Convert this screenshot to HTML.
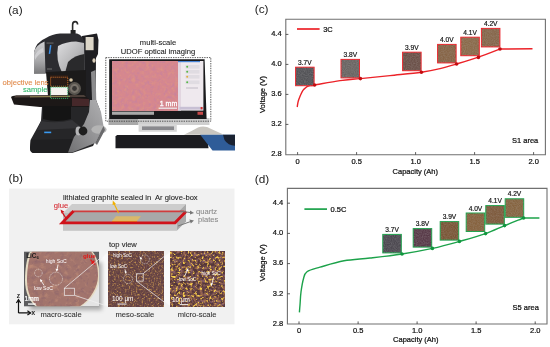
<!DOCTYPE html>
<html><head><meta charset="utf-8"><style>
html,body{margin:0;padding:0;background:#fff;}
svg{display:block;}
.t{font-family:'Liberation Sans',Arial,sans-serif;font-size:7.5px;fill:#111;stroke:#111;stroke-width:0.22px;}
.s{font-family:'Liberation Sans',Arial,sans-serif;font-size:6.6px;fill:#111;stroke:#111;stroke-width:0.18px;}
.p{font-family:'Liberation Sans',Arial,sans-serif;font-size:11.8px;fill:#1a1a1a;}
.l{font-family:'Liberation Sans',Arial,sans-serif;font-size:7.6px;fill:#1a1a1a;stroke:#1a1a1a;stroke-width:0.08px;}
</style></head><body>
<svg width="550" height="347" viewBox="0 0 550 347">
<defs>
<filter id="nf" x="0" y="0" width="100%" height="100%">
<feTurbulence type="fractalNoise" baseFrequency="0.9" numOctaves="2" seed="3"/>
<feColorMatrix type="matrix" values="0 0 0 0 0.5  0 0 0 0 0.5  0 0 0 0 0.5  1.2 0 0 0 -0.35"/>
</filter>
<filter id="fmicro" x="0" y="0" width="1" height="1" color-interpolation-filters="sRGB">
<feTurbulence type="fractalNoise" baseFrequency="0.42" numOctaves="2" seed="7" result="n"/>
<feTurbulence type="fractalNoise" baseFrequency="0.3" numOctaves="2" seed="11" result="m"/>
<feFlood flood-color="#54363a" result="bg"/>
<feColorMatrix in="m" type="matrix" values="0 0 0 0 0.6  0 0 0 0 0.4  0 0 0 0 0.32  3 0 0 0 -1.3" result="mid"/>
<feColorMatrix in="m" type="matrix" values="0 0 0 0 0.56  0 0 0 0 0.4  0 0 0 0 0.48  0 2.5 0 0 -1.25" result="pur"/>
<feColorMatrix in="n" type="matrix" values="0 0 0 0 0.78  0 0 0 0 0.52  0 0 0 0 0.24  3 0 0 0 -1.5" result="org"/>
<feColorMatrix in="n" type="matrix" values="0 0 0 0 0.96  0 0 0 0 0.82  0 0 0 0 0.3  5 0 0 0 -2.8" result="gold"/>
<feMerge><feMergeNode in="bg"/><feMergeNode in="mid"/><feMergeNode in="pur"/><feMergeNode in="org"/><feMergeNode in="gold"/></feMerge>
</filter>
<filter id="fmeso" x="0" y="0" width="1" height="1" color-interpolation-filters="sRGB">
<feTurbulence type="fractalNoise" baseFrequency="0.55" numOctaves="2" seed="3" result="n"/>
<feTurbulence type="fractalNoise" baseFrequency="0.6" numOctaves="2" seed="9" result="m"/>
<feFlood flood-color="#6a4842" result="bg"/>
<feColorMatrix in="m" type="matrix" values="0 0 0 0 0.36  0 0 0 0 0.22  0 0 0 0 0.28  3 0 0 0 -1.3" result="pur"/>
<feColorMatrix in="n" type="matrix" values="0 0 0 0 0.6  0 0 0 0 0.42  0 0 0 0 0.3  3 0 0 0 -1.35" result="mid"/>
<feColorMatrix in="n" type="matrix" values="0 0 0 0 0.76  0 0 0 0 0.58  0 0 0 0 0.3  4 0 0 0 -2.4" result="gold"/>
<feMerge><feMergeNode in="bg"/><feMergeNode in="pur"/><feMergeNode in="mid"/><feMergeNode in="gold"/></feMerge>
</filter>
<filter id="fscreen" x="0" y="0" width="1" height="1" color-interpolation-filters="sRGB">
<feTurbulence type="fractalNoise" baseFrequency="0.28" numOctaves="3" seed="4" result="n"/>
<feFlood flood-color="#d6878e" result="bg"/>
<feColorMatrix in="n" type="matrix" values="0 0 0 0 0.76  0 0 0 0 0.5  0 0 0 0 0.64  0 1.6 0 0 -0.75" result="pur"/>
<feColorMatrix in="n" type="matrix" values="0 0 0 0 0.88  0 0 0 0 0.6  0 0 0 0 0.5  1.6 0 0 0 -0.8" result="org"/>
<feMerge><feMergeNode in="bg"/><feMergeNode in="pur"/><feMergeNode in="org"/></feMerge>
</filter>
<filter id="fdisc" x="0" y="0" width="1" height="1" color-interpolation-filters="sRGB">
<feTurbulence type="fractalNoise" baseFrequency="0.2" numOctaves="3" seed="2" result="n"/>
<feFlood flood-color="#a2746c" result="bg"/>
<feColorMatrix in="n" type="matrix" values="0 0 0 0 0.74  0 0 0 0 0.54  0 0 0 0 0.46  2.5 0 0 0 -1.3" result="lt"/>
<feColorMatrix in="n" type="matrix" values="0 0 0 0 0.56  0 0 0 0 0.4  0 0 0 0 0.42  0 2.5 0 0 -1.3" result="dk"/>
<feMerge><feMergeNode in="bg"/><feMergeNode in="lt"/><feMergeNode in="dk"/></feMerge>
<feComposite in2="SourceGraphic" operator="in"/>
</filter>
<pattern id="noise" width="60" height="60" patternUnits="userSpaceOnUse"><rect width="60" height="60" filter="url(#nf)"/></pattern>
</defs>
<rect width="550" height="347" fill="#fff"/>
<g id="pa">
<text x="8.2" y="14" class="p">(a)</text>
<!-- microscope column (behind) -->
<defs>
<linearGradient id="gsil" x1="0" y1="0" x2="1" y2="1"><stop offset="0" stop-color="#dedee0"/><stop offset="0.55" stop-color="#b8b8ba"/><stop offset="1" stop-color="#7e7e80"/></linearGradient>
<linearGradient id="gsil2" x1="0" y1="0" x2="0" y2="1"><stop offset="0" stop-color="#d0d0d2"/><stop offset="0.6" stop-color="#a8a8aa"/><stop offset="1" stop-color="#7a7a7c"/></linearGradient>
<linearGradient id="garm" x1="1" y1="0" x2="0" y2="1"><stop offset="0" stop-color="#b0b0b2"/><stop offset="0.5" stop-color="#939395"/><stop offset="1" stop-color="#707072"/></linearGradient>
</defs>
<path d="M82,36 L97,33.5 L98.5,40 L98,54 L96,58 L95.5,112 L83,112 Z" fill="#1f1f22"/>
<rect x="85.6" y="37" width="8" height="13.2" fill="#dcd6c8"/>
<path d="M91,72 L95.5,70 L96.5,110 L92.5,112 Z" fill="#8c8c8e"/>
<ellipse cx="94" cy="60.5" rx="1.6" ry="2.2" fill="#d8ccb8"/>
<!-- hook -->
<path d="M72.6,36 L72.6,25 Q72.6,21.6 75.1,21.6 Q77.6,21.6 77.6,24.6" fill="none" stroke="#2a2a2a" stroke-width="1.6"/>
<rect x="70.6" y="30" width="5" height="8" fill="#222"/>
<!-- head -->
<path d="M34,52 Q36,42 46,38 Q52,34 60,33.5 L77,33.5 Q83,35 85,44 L85,73 L34,73.5 Z" fill="#2c2c30"/>
<path d="M34,52 Q36,45 44.5,41.5 L45.5,73.5 L34,73.5 Z" fill="url(#gsil2)"/>
<path d="M34.6,56 Q37,50 43,48 L43.5,52 Q38,54 35,60 Z" fill="#e0e0e2" opacity="0.6"/>
<rect x="49.4" y="45" width="1.5" height="9" fill="#3b8fe6" transform="rotate(8 50 49)"/>
<rect x="46.5" y="42.6" width="7" height="0.9" fill="#707070"/>
<rect x="47" y="68.5" width="5" height="1" fill="#707070"/>
<path d="M58,46 Q66,41.5 76,41.5 L84,43 L84.5,72 L62,72.5 Q55.5,60 58,46 Z" fill="url(#gsil)"/>
<path d="M68,62 Q75,55 84.5,54 L84.5,73 L65,73 Z" fill="#2a2a2c"/>
<!-- under head dark -->
<path d="M46,72 L86,70 L86,96 L48,96 Z" fill="#1b1a1a"/>
<rect x="50" y="75" width="18" height="9.5" fill="#2a1c16"/>
<circle cx="71" cy="80" r="1.8" fill="#d8c8a8"/>
<circle cx="74.5" cy="88.5" r="6.5" fill="#5a5650"/>
<circle cx="74.5" cy="88.5" r="4.4" fill="#7a746c"/>
<circle cx="74.5" cy="88.5" r="2.4" fill="#383634"/>
<!-- sample bright area -->
<rect x="50.5" y="87" width="17.3" height="11" fill="#f4f2ee"/>
<!-- dark mass of base/column -->
<path d="M42,106 L83,100 L96,100 L100,110 L102,128 L93,146 L72,153 L33,153 Q30,152 30,148 L30.5,140 L41,121 Z" fill="#262628"/>
<!-- stage -->
<path d="M11,97 Q12,95.4 16,95.4 L84,95 L89,99 L89,107 L40,107 L14,104.5 Z" fill="#1c1817"/>
<path d="M16,95.4 L84,95 L86,97 L14,97.6 Z" fill="#4c403a"/>
<path d="M30,96.8 L70,96.4" stroke="#a89a58" stroke-width="0.8"/>
<path d="M72,98 L89,99 L89,106 L72,106 Z" fill="#46282a"/>
<!-- condenser -->
<path d="M43,106 L71,106 L71,119 Q57,123 43,119 Z" fill="#141414"/>
<!-- base top surface -->
<path d="M41,121 Q57,124 72,120 L82,128 L37,130 Z" fill="#343437"/>
<path d="M31,140 L72,139 L70,153 L33,153 Q30,152 30,148 Z" fill="#1f1f21"/>
<!-- silver arm -->
<path d="M90,100 L96,100 L101,112 L103.5,126 L95,143 L72,152.5 L68,152.5 L74,137 L84,124 L89,112 Z" fill="url(#garm)"/>
<ellipse cx="99" cy="129.5" rx="7.6" ry="4.3" fill="#b4b4b4"/>
<path d="M95,143 L103.5,126 L105,130 L97,145 Z" fill="#6a6a6c"/>
<ellipse cx="78.5" cy="131" rx="3" ry="4.4" fill="#b6b6b8"/>
<circle cx="83" cy="131" r="4.4" fill="#1e1e1e"/>
<rect x="44.2" y="131.6" width="7" height="1.6" fill="#3a9af0"/>
<!-- labels -->
<text x="2.6" y="85" class="l" style="fill:#e08848;stroke:#e08848">objective lens</text>
<text x="22.9" y="92.2" class="l" style="fill:#2db86a;stroke:#2db86a">sample</text>
<rect x="50.6" y="77.2" width="17.2" height="9" fill="none" stroke="#e07a30" stroke-width="0.8" stroke-dasharray="1.2,0.8"/>
<rect x="50.6" y="87.2" width="17.2" height="11.2" fill="none" stroke="#2db86a" stroke-width="0.8" stroke-dasharray="1.2,0.8"/>

<!-- monitor area -->
<text x="158" y="45.1" text-anchor="middle" class="l">multi-scale</text>
<text x="158" y="54" text-anchor="middle" class="l">UDOF optical imaging</text>
<!-- stand and devices -->
<path d="M108.6,118 L209.5,118 L209.5,125 L108.6,125 Z" fill="#cfcfcf"/>
<path d="M108.6,119 L138,119 L138,125 L108.6,125 Z" fill="#a9a9a9"/>
<path d="M138.6,124 L176.8,124 L176.8,131.8 L138.6,131.8 Z" fill="#d6d6d6"/>
<path d="M142,126.4 L174,126.4 L174,130 L142,130 Z" fill="#8a8a8e"/>
<path d="M184,134.8 Q192,131 198,127.6 Q202,125.6 207,127 L214,130.2 L224,134.8 Z" fill="#c9c6c0"/>
<!-- keyboard -->
<path d="M117,135 L207,135 L208.5,148.3 L115.5,148.3 L115.5,136.5 Z" fill="#1c1c20"/>
<!-- mouse pad -->
<path d="M200.2,134.8 L235,134.8 L235,150.6 L212.5,150.6 Z" fill="#2f5c98"/>
<path d="M223,134.8 L235,134.8 L235,145.8 Q228,145.5 224.5,140 Z" fill="#1a2232"/>
<!-- monitor -->
<path d="M109.2,59.2 L204.6,59.2 L206.6,119 L109.2,119 Z" fill="#1a1a1c"/>
<rect x="112" y="61" width="66" height="49.6" fill="#d6878e" filter="url(#fscreen)"/>
<rect x="178" y="61" width="25.4" height="49.6" fill="#efe9ee"/>
<rect x="178" y="61" width="3" height="49.6" fill="#e2d6e0"/>
<rect x="178" y="61" width="22" height="1.2" fill="#4a86d8"/>
<rect x="185.5" y="65" width="14" height="3.6" fill="#e0dce2"/>
<rect x="185.5" y="70" width="14" height="3.6" fill="#e0dce2"/>
<rect x="185.5" y="75" width="14" height="3.6" fill="#e0dce2"/>
<rect x="185.5" y="80.5" width="14" height="3.6" fill="#e0dce2"/>
<circle cx="187.2" cy="66.8" r="1" fill="#58b848"/>
<circle cx="187.2" cy="71.8" r="1" fill="#58b848"/>
<circle cx="187.2" cy="76.8" r="1" fill="#e0b040"/>
<circle cx="187.2" cy="82.3" r="1" fill="#58b848"/>
<rect x="186" y="87" width="12" height="2" fill="#d8d2da"/>
<rect x="179.5" y="106.8" width="23" height="2.8" fill="#c8c0d4"/>
<rect x="200.6" y="107" width="2" height="2.4" fill="#d03030"/>
<rect x="112" y="111.6" width="42" height="3.2" fill="#a9a9a9"/>
<rect x="197.5" y="111.8" width="5.5" height="3" fill="#c84848"/>
<text x="168.5" y="106" text-anchor="middle" style="font-family:'Liberation Sans',Arial,sans-serif;font-size:7px;fill:#fff;stroke:#fff;stroke-width:0.3px">1 mm</text>
<rect x="158.6" y="107.6" width="18.4" height="1.2" fill="#f0f0f0"/>
<rect x="105.8" y="57.6" width="105" height="63.6" fill="none" stroke="#333" stroke-width="0.8" stroke-dasharray="1.4,1"/>
</g>

<g id="pb">
<text x="8.6" y="181.8" class="p">(b)</text>
<rect x="9" y="188.6" width="225.5" height="135.7" fill="#f1f1f1"/>
<text x="63" y="199.5" class="l" style="fill:#222;stroke:#222">lithiated graphite sealed in&#160; Ar glove-box</text>
<!-- slab -->
<path d="M72,204 L186,204 L177,213 L63,213 Z" fill="#cdcdcd"/>
<path d="M63,213 L177,213 L177,230.5 L63,230.5 Z" fill="#bdbdbd"/>
<path d="M177,213 L186,204 L186,221.5 L177,230.5 Z" fill="#a9a9a9"/>
<path d="M70,211.2 L184,211.2 L175,222.8 L62,222.8 Z" fill="#a8a8a8"/>
<path d="M63,224 L177,224 L177,230.5 L63,230.5 Z" fill="#c6c6c6"/>
<!-- sample -->
<path d="M116,216.2 L141,216.2 L137,221 L112,221 Z" fill="#d9b86a"/>
<line x1="112" y1="221.4" x2="137" y2="221.4" stroke="#f0b018" stroke-width="1"/>
<!-- glue -->
<line x1="73.5" y1="211.3" x2="184" y2="211.3" stroke="#d03c3c" stroke-width="1.8"/>
<path d="M73.6,211 L62.2,222.8 L175,222.8 L186,211.6" fill="none" stroke="#d0121a" stroke-width="2.8" stroke-linejoin="miter"/>
<!-- glue arrow -->
<line x1="65.8" y1="218" x2="62.4" y2="212.6" stroke="#d0121a" stroke-width="1.3"/>
<path d="M60.6,209.6 L64.4,211.8 L61.4,213.6 Z" fill="#d0121a"/>
<text x="53.8" y="208.2" class="l" style="fill:#d4262e;stroke:#d4262e">glue</text>
<!-- yellow arrow -->
<line x1="118.6" y1="213" x2="114" y2="203.4" stroke="#f0b000" stroke-width="1.1"/>
<path d="M112.8,200.6 L116,204 L112.6,205 Z" fill="#f0b000"/>
<!-- gray arrows -->
<line x1="180" y1="211.2" x2="191" y2="212.6" stroke="#777" stroke-width="1"/>
<path d="M194,213 L190,210.6 L190,214.6 Z" fill="#777"/>
<line x1="178" y1="226" x2="191" y2="221.4" stroke="#777" stroke-width="1"/>
<path d="M194,220.4 L189.4,219.6 L190.8,223.4 Z" fill="#777"/>
<text x="196" y="213.6" class="l" style="fill:#8a8a8a;stroke:#8a8a8a">quartz</text>
<text x="198" y="222" class="l" style="fill:#8a8a8a;stroke:#8a8a8a">plates</text>
<text x="109" y="247.2" class="l" style="fill:#222;stroke:#222">top view</text>

<!-- zoom cones -->
<path d="M74.5,288.2 L108,251.6 L108,306.4 L74.5,295.3 Z" fill="#fafafa" opacity="0.9"/>
<path d="M164,256.5 L170,251.6 L170,306.4 L164,300.8 Z" fill="#fafafa" opacity="0.9"/>
<filter id="blur2" x="-0.3" y="-0.3" width="1.6" height="1.6"><feGaussianBlur stdDeviation="2.2"/></filter>
<rect x="30" y="262" width="72" height="48" fill="#555" opacity="0.45" filter="url(#blur2)"/>
<!-- macro image -->
<clipPath id="cm"><rect x="24" y="251.4" width="75.2" height="55.2"/></clipPath>
<g clip-path="url(#cm)">
<rect x="24" y="251.4" width="75.2" height="55.2" fill="#5d5d5f"/>
<path d="M70,306.6 L99.2,280 L99.2,306.6 Z" fill="#e4e4e4"/>
<path d="M30,251.4 L92.5,251.4 C96,255 99.6,265 99.6,276 C99.6,288 92,300 81,306.6 L36,306.6 C30,302 25,293 25,280 C25,268 27,258 30,251.4 Z" fill="#e6dcc4"/>
<path d="M32,251.4 L91,251.4 C94.5,255 98,265 98,276 C98,287 91,299 79.6,306.6 L37.6,306.6 C32,302 27,293 27,280 C27,268 29,258 32,251.4 Z" fill="#a6736a" filter="url(#fdisc)"/>
</g>
<text x="26.2" y="258" style="font-family:'Liberation Sans',Arial,sans-serif;font-size:6.4px;font-weight:bold;fill:#1a1a1a">LiC<tspan font-size="4.2" dy="1">6</tspan></text>
<circle cx="38.4" cy="273" r="3.8" fill="none" stroke="#f4f0ea" stroke-width="0.6" stroke-dasharray="1,0.7"/>
<circle cx="56" cy="278.7" r="6.5" fill="none" stroke="#f4f0ea" stroke-width="0.6" stroke-dasharray="1,0.7"/>
<text x="45.8" y="263.4" style="font-family:'Liberation Sans',Arial,sans-serif;font-size:5.1px;fill:#fff">high SoC</text>
<text x="34" y="290.2" style="font-family:'Liberation Sans',Arial,sans-serif;font-size:5.1px;fill:#fff">low SoC</text>
<line x1="58" y1="264.6" x2="57" y2="270" stroke="#fff" stroke-width="0.8"/>
<path d="M56.6,271.8 L55.6,268.8 L58.4,269.2 Z" fill="#fff"/>
<line x1="44" y1="285.4" x2="41" y2="280.6" stroke="#fff" stroke-width="0.8"/>
<path d="M40,279 L42.6,280.4 L40.4,282 Z" fill="#fff"/>
<text x="83" y="258.4" style="font-family:'Liberation Sans',Arial,sans-serif;font-size:6.2px;font-weight:bold;fill:#e01818">glue</text>
<line x1="90.6" y1="259.6" x2="93" y2="262.4" stroke="#e01818" stroke-width="1.4"/>
<path d="M95.4,265 L90.8,263.2 L94,260 Z" fill="#e01818"/>
<text x="24.6" y="300.6" style="font-family:'Liberation Sans',Arial,sans-serif;font-size:6.4px;fill:#fff;stroke:#fff;stroke-width:0.2px">1mm</text>
<rect x="28" y="303.4" width="7.8" height="1.3" fill="#fff"/>
<rect x="64.3" y="288.2" width="10.2" height="7.1" fill="none" stroke="#f0f0f0" stroke-width="0.7"/>
<line x1="64.3" y1="288.2" x2="108" y2="251.6" stroke="#f2f2f2" stroke-width="0.7"/>
<line x1="74.5" y1="295.3" x2="108" y2="306.4" stroke="#f2f2f2" stroke-width="0.7"/>

<!-- meso image -->
<rect x="108" y="251.6" width="56" height="54.8" fill="#7a5242" filter="url(#fmeso)"/>
<text x="113" y="256.6" style="font-family:'Liberation Sans',Arial,sans-serif;font-size:4.6px;fill:#fff">high SoC</text>
<line x1="139.4" y1="256.8" x2="141.2" y2="258.4" stroke="#fff" stroke-width="0.8"/>
<path d="M142.4,259.6 L139.6,259 L141,257 Z" fill="#fff"/>
<line x1="125" y1="269.4" x2="125.6" y2="272" stroke="#fff" stroke-width="0.8"/>
<path d="M126,274 L124.4,271.6 L126.8,271.4 Z" fill="#fff"/>
<circle cx="145" cy="259.4" r="4.4" fill="none" stroke="#f4f0ea" stroke-width="0.6" stroke-dasharray="1,0.7"/>
<text x="110" y="268.4" style="font-family:'Liberation Sans',Arial,sans-serif;font-size:4.6px;fill:#fff">low SoC</text>
<circle cx="128" cy="279" r="4.5" fill="none" stroke="#f4f0ea" stroke-width="0.6" stroke-dasharray="1,0.7"/>
<rect x="136.6" y="273.8" width="6.6" height="7.3" fill="none" stroke="#f0f0f0" stroke-width="0.7"/>
<text x="112" y="301.4" style="font-family:'Liberation Sans',Arial,sans-serif;font-size:6.4px;fill:#fff">100 μm</text>
<rect x="117.4" y="303.6" width="9.2" height="0.9" fill="#fff"/>
<line x1="143" y1="273.8" x2="170" y2="251.6" stroke="#f2f2f2" stroke-width="0.7"/>
<line x1="136.6" y1="281.2" x2="170" y2="306.4" stroke="#f2f2f2" stroke-width="0.7"/>

<!-- micro image -->
<rect x="170" y="251.6" width="55" height="54.8" fill="#6a4648" filter="url(#fmicro)"/>
<text x="179" y="281.2" style="font-family:'Liberation Sans',Arial,sans-serif;font-size:4.6px;fill:#fff">low SoC</text>
<text x="201.6" y="275.2" style="font-family:'Liberation Sans',Arial,sans-serif;font-size:4.6px;fill:#fff">high SoC</text>
<text x="172" y="301.6" style="font-family:'Liberation Sans',Arial,sans-serif;font-size:6.4px;fill:#fff">10 μm</text>
<rect x="179.6" y="304.2" width="8.4" height="0.9" fill="#fff"/>
<line x1="184.6" y1="276.4" x2="187.2" y2="270.4" stroke="#fff" stroke-width="0.8"/>
<path d="M188.2,268 L188.4,271.4 L186,270.6 Z" fill="#fff"/>
<line x1="213.6" y1="277" x2="211.8" y2="284" stroke="#fff" stroke-width="0.8"/>
<path d="M211.2,286.4 L210.6,283 L213,283.6 Z" fill="#fff"/>

<!-- axes icon -->
<path d="M18.5,312.9 L18.5,299.8 M18.5,312.9 L30.4,312.9" stroke="#111" stroke-width="1.2" fill="none"/>
<path d="M16.4,303 L18.5,299.6 L20.6,303 M27.4,310.8 L30.6,312.9 L27.4,315" stroke="#111" stroke-width="1.2" fill="none" stroke-linejoin="miter"/>
<text x="16.8" y="297.8" style="font-family:'Liberation Sans',Arial,sans-serif;font-size:6.6px;fill:#111;stroke:#111;stroke-width:0.2px">z</text>
<text x="31.6" y="314.8" style="font-family:'Liberation Sans',Arial,sans-serif;font-size:7px;fill:#111;stroke:#111;stroke-width:0.2px">x</text>
<text x="40.4" y="317.2" class="l" style="fill:#333;stroke:#333">macro-scale</text>
<text x="115.4" y="317.2" class="l" style="fill:#333;stroke:#333">meso-scale</text>
<text x="177.7" y="317.2" class="l" style="fill:#333;stroke:#333">micro-scale</text>
</g>

<path d="M285.8,19.2 H545.4 V154.7 H285.8 Z" fill="none" stroke="#707070" stroke-width="1.1"/>
<text x="281.6" y="156.2" text-anchor="end" class="t">2.8</text>
<line x1="285.8" y1="124.4" x2="288.40000000000003" y2="124.4" stroke="#333" stroke-width="0.8"/>
<text x="281.6" y="126.2" text-anchor="end" class="t">3.2</text>
<line x1="285.8" y1="94.4" x2="288.40000000000003" y2="94.4" stroke="#333" stroke-width="0.8"/>
<text x="281.6" y="96.2" text-anchor="end" class="t">3.6</text>
<line x1="285.8" y1="64.4" x2="288.40000000000003" y2="64.4" stroke="#333" stroke-width="0.8"/>
<text x="281.6" y="66.2" text-anchor="end" class="t">4.0</text>
<line x1="285.8" y1="34.4" x2="288.40000000000003" y2="34.4" stroke="#333" stroke-width="0.8"/>
<text x="281.6" y="36.2" text-anchor="end" class="t">4.4</text>
<line x1="297.6" y1="154.7" x2="297.6" y2="152.1" stroke="#333" stroke-width="0.8"/>
<text x="297.6" y="164.1" text-anchor="middle" class="t">0</text>
<line x1="356.6" y1="154.7" x2="356.6" y2="152.1" stroke="#333" stroke-width="0.8"/>
<text x="356.6" y="164.1" text-anchor="middle" class="t">0.5</text>
<line x1="415.6" y1="154.7" x2="415.6" y2="152.1" stroke="#333" stroke-width="0.8"/>
<text x="415.6" y="164.1" text-anchor="middle" class="t">1.0</text>
<line x1="474.6" y1="154.7" x2="474.6" y2="152.1" stroke="#333" stroke-width="0.8"/>
<text x="474.6" y="164.1" text-anchor="middle" class="t">1.5</text>
<line x1="533.6" y1="154.7" x2="533.6" y2="152.1" stroke="#333" stroke-width="0.8"/>
<text x="533.6" y="164.1" text-anchor="middle" class="t">2.0</text>
<text x="415.3" y="173.9" text-anchor="middle" class="t">Capacity (Ah)</text>
<text transform="translate(264.6,94.5) rotate(-90)" text-anchor="middle" class="t">Voltage (V)</text>
<line x1="297" y1="29" x2="319.6" y2="29" stroke="#ec2228" stroke-width="1.7"/>
<text x="323.2" y="31.7" class="t">3C</text>
<text x="512" y="143.2" class="t">S1 area</text>
<path d="M297.2,107.0 C297.4,106.0 297.7,103.0 298.3,101.0 C298.9,99.0 299.9,96.7 300.6,95.0 C301.4,93.3 302.0,91.8 302.8,90.6 C303.6,89.4 304.4,88.8 305.3,88.0 C306.2,87.2 306.8,86.5 308.4,86.0 C309.9,85.5 309.3,85.9 314.6,85.0 C319.9,84.1 332.4,81.7 340.0,80.6 C347.6,79.5 352.1,79.4 360.4,78.6 C368.7,77.8 379.8,76.7 390.0,75.6 C400.2,74.5 413.1,73.4 421.4,72.2 C429.7,71.0 434.1,70.0 440.0,68.6 C445.9,67.2 450.2,65.9 456.6,64.0 C463.0,62.1 471.2,59.7 478.4,57.2 C485.6,54.7 496.4,50.4 500.0,49.0 L532.5,48.8" fill="none" stroke="#ec2228" stroke-width="1.4" stroke-linejoin="round"/>
<rect x="295.6" y="67.2" width="18.5" height="18.5" fill="#525256" stroke="#ec2228" stroke-width="1"/>
<rect x="295.6" y="67.2" width="18.5" height="18.5" fill="url(#noise)" opacity="0.35"/>
<text x="304.9" y="64.8" text-anchor="middle" class="s">3.7V</text>
<circle cx="314.6" cy="85" r="1.8" fill="#c40c10"/>
<rect x="341" y="59.4" width="18.5" height="18.5" fill="#6a6462" stroke="#ec2228" stroke-width="1"/>
<rect x="341" y="59.4" width="18.5" height="18.5" fill="url(#noise)" opacity="0.35"/>
<text x="350.3" y="57.0" text-anchor="middle" class="s">3.8V</text>
<circle cx="360.4" cy="78.6" r="1.8" fill="#c40c10"/>
<rect x="402.6" y="52.2" width="18.5" height="18.5" fill="#6b5048" stroke="#ec2228" stroke-width="1"/>
<rect x="402.6" y="52.2" width="18.5" height="18.5" fill="url(#noise)" opacity="0.35"/>
<text x="411.9" y="49.8" text-anchor="middle" class="s">3.9V</text>
<circle cx="421.4" cy="72.2" r="1.8" fill="#c40c10"/>
<rect x="437.6" y="44.4" width="18.5" height="18.5" fill="#866446" stroke="#ec2228" stroke-width="1"/>
<rect x="437.6" y="44.4" width="18.5" height="18.5" fill="url(#noise)" opacity="0.35"/>
<text x="446.9" y="42.0" text-anchor="middle" class="s">4.0V</text>
<circle cx="456.6" cy="64" r="1.8" fill="#c40c10"/>
<rect x="460.8" y="37.2" width="18.5" height="18.5" fill="#8a6a4a" stroke="#ec2228" stroke-width="1"/>
<rect x="460.8" y="37.2" width="18.5" height="18.5" fill="url(#noise)" opacity="0.35"/>
<text x="470.1" y="34.8" text-anchor="middle" class="s">4.1V</text>
<circle cx="478.4" cy="57.4" r="1.8" fill="#c40c10"/>
<rect x="481.4" y="28.4" width="18.5" height="18.5" fill="#86664a" stroke="#ec2228" stroke-width="1"/>
<rect x="481.4" y="28.4" width="18.5" height="18.5" fill="url(#noise)" opacity="0.35"/>
<text x="490.7" y="26.0" text-anchor="middle" class="s">4.2V</text>
<circle cx="500" cy="49" r="1.8" fill="#c40c10"/>
<text x="254.8" y="13.2" class="p">(c)</text>
<path d="M287.4,188.4 H547 V324 H287.4 Z" fill="none" stroke="#707070" stroke-width="1.1"/>
<text x="283.2" y="325.8" text-anchor="end" class="t">2.8</text>
<line x1="287.4" y1="293.8" x2="290.0" y2="293.8" stroke="#333" stroke-width="0.8"/>
<text x="283.2" y="295.6" text-anchor="end" class="t">3.2</text>
<line x1="287.4" y1="263.6" x2="290.0" y2="263.6" stroke="#333" stroke-width="0.8"/>
<text x="283.2" y="265.4" text-anchor="end" class="t">3.6</text>
<line x1="287.4" y1="233.4" x2="290.0" y2="233.4" stroke="#333" stroke-width="0.8"/>
<text x="283.2" y="235.2" text-anchor="end" class="t">4.0</text>
<line x1="287.4" y1="203.2" x2="290.0" y2="203.2" stroke="#333" stroke-width="0.8"/>
<text x="283.2" y="205.0" text-anchor="end" class="t">4.4</text>
<line x1="299.0" y1="324" x2="299.0" y2="321.4" stroke="#333" stroke-width="0.8"/>
<text x="299.0" y="333.4" text-anchor="middle" class="t">0</text>
<line x1="358.1" y1="324" x2="358.1" y2="321.4" stroke="#333" stroke-width="0.8"/>
<text x="358.1" y="333.4" text-anchor="middle" class="t">0.5</text>
<line x1="417.1" y1="324" x2="417.1" y2="321.4" stroke="#333" stroke-width="0.8"/>
<text x="417.1" y="333.4" text-anchor="middle" class="t">1.0</text>
<line x1="476.1" y1="324" x2="476.1" y2="321.4" stroke="#333" stroke-width="0.8"/>
<text x="476.1" y="333.4" text-anchor="middle" class="t">1.5</text>
<line x1="535.2" y1="324" x2="535.2" y2="321.4" stroke="#333" stroke-width="0.8"/>
<text x="535.2" y="333.4" text-anchor="middle" class="t">2.0</text>
<text x="415.8" y="341.9" text-anchor="middle" class="t">Capacity (Ah)</text>
<text transform="translate(264.6,262.8) rotate(-90)" text-anchor="middle" class="t">Voltage (V)</text>
<line x1="304.4" y1="209.1" x2="327" y2="209.1" stroke="#1ca24a" stroke-width="1.7"/>
<text x="330.6" y="211.8" class="t">0.5C</text>
<text x="512.6" y="310.2" class="t">S5 area</text>
<path d="M299.4,312.4 C299.5,311.2 299.7,308.4 300.0,305.0 C300.3,301.6 300.4,296.3 301.0,292.0 C301.6,287.7 302.4,282.4 303.4,279.0 C304.4,275.6 304.2,273.8 307.0,271.8 C309.8,269.8 313.8,269.0 320.0,267.2 C326.2,265.4 335.7,262.3 344.0,260.8 C352.3,259.3 360.3,259.1 370.0,258.0 C379.7,256.9 391.6,255.6 402.0,254.0 C412.4,252.4 422.8,250.5 432.4,248.4 C442.0,246.3 450.5,243.9 459.4,241.4 C468.3,238.9 478.1,236.2 485.6,233.6 C493.1,231.0 498.3,228.2 504.6,225.6 C510.9,223.0 520.4,219.3 523.6,218.0 L539.4,218" fill="none" stroke="#1ca24a" stroke-width="1.4" stroke-linejoin="round"/>
<rect x="382.8" y="234.4" width="18.5" height="18.5" fill="#4c4850" stroke="#1ca24a" stroke-width="1"/>
<rect x="382.8" y="234.4" width="18.5" height="18.5" fill="url(#noise)" opacity="0.35"/>
<text x="392.1" y="232.0" text-anchor="middle" class="s">3.7V</text>
<circle cx="402" cy="254" r="1.8" fill="#10963e"/>
<rect x="413.2" y="228.6" width="18.5" height="18.5" fill="#583a48" stroke="#1ca24a" stroke-width="1"/>
<rect x="413.2" y="228.6" width="18.5" height="18.5" fill="url(#noise)" opacity="0.35"/>
<text x="422.5" y="226.2" text-anchor="middle" class="s">3.8V</text>
<circle cx="432.4" cy="248.4" r="1.8" fill="#10963e"/>
<rect x="440.2" y="221.6" width="18.5" height="18.5" fill="#7a5636" stroke="#1ca24a" stroke-width="1"/>
<rect x="440.2" y="221.6" width="18.5" height="18.5" fill="url(#noise)" opacity="0.35"/>
<text x="449.5" y="219.2" text-anchor="middle" class="s">3.9V</text>
<circle cx="459.4" cy="241.4" r="1.8" fill="#10963e"/>
<rect x="466.2" y="213" width="18.5" height="18.5" fill="#86623e" stroke="#1ca24a" stroke-width="1"/>
<rect x="466.2" y="213" width="18.5" height="18.5" fill="url(#noise)" opacity="0.35"/>
<text x="475.5" y="210.6" text-anchor="middle" class="s">4.0V</text>
<circle cx="485.6" cy="233.6" r="1.8" fill="#10963e"/>
<rect x="485.8" y="205.6" width="18.5" height="18.5" fill="#7e5a3c" stroke="#1ca24a" stroke-width="1"/>
<rect x="485.8" y="205.6" width="18.5" height="18.5" fill="url(#noise)" opacity="0.35"/>
<text x="495.1" y="203.2" text-anchor="middle" class="s">4.1V</text>
<circle cx="504.6" cy="225.6" r="1.8" fill="#10963e"/>
<rect x="505.2" y="198.8" width="18.5" height="18.5" fill="#866440" stroke="#1ca24a" stroke-width="1"/>
<rect x="505.2" y="198.8" width="18.5" height="18.5" fill="url(#noise)" opacity="0.35"/>
<text x="514.5" y="196.4" text-anchor="middle" class="s">4.2V</text>
<circle cx="523.6" cy="218" r="1.8" fill="#10963e"/>
<text x="254.8" y="183.0" class="p">(d)</text>
</svg>
</body></html>
